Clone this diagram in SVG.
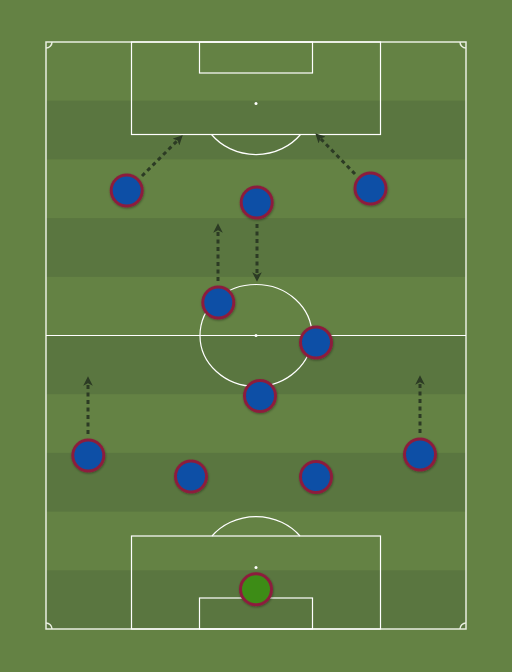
<svg xmlns="http://www.w3.org/2000/svg" width="512" height="672" viewBox="0 0 512 672">
<defs>
<style>
.ln{fill:none;stroke:#ffffff;stroke-width:1.2}
.out{fill:none;stroke:#e8eee0;stroke-width:1.5}
.str{fill:#5a7640}
.pl{fill:#0c4fa6;stroke:#8c1f3c;stroke-width:3}
.gk{fill:#3e8c18;stroke:#8c1f3c;stroke-width:3}
.ar{fill:none;stroke:#2c3b24;stroke-width:3;stroke-dasharray:4 3.5;marker-end:url(#ah)}
</style>
<marker id="ah" viewBox="0 0 10 10" refX="6" refY="5" markerWidth="3.2" markerHeight="3.2" orient="auto" markerUnits="strokeWidth">
<path d="M0,0 L10,5 L0,10 L2.5,5 Z" fill="#2c3b24"/>
</marker>
<filter id="sh" x="-30%" y="-30%" width="160%" height="160%">
<feDropShadow dx="0.5" dy="1" stdDeviation="1" flood-color="#000" flood-opacity="0.35"/>
</filter>
</defs>
<rect width="512" height="672" fill="#648244"/>
<g id="pitch">
<rect class="str" x="46" y="100.7" width="420" height="58.7"/>
<rect class="str" x="46" y="218.1" width="420" height="58.7"/>
<rect class="str" x="46" y="335.5" width="420" height="58.7"/>
<rect class="str" x="46" y="452.9" width="420" height="58.7"/>
<rect class="str" x="46" y="570.3" width="420" height="58.7"/>
<rect class="out" x="46" y="42" width="420" height="587"/>
<line class="ln" x1="46" y1="335.5" x2="466" y2="335.5"/>
<ellipse class="ln" cx="256" cy="335.5" rx="56" ry="51"/>
<circle cx="256" cy="335.5" r="1.5" fill="#fff"/>
<rect class="ln" x="131.5" y="42" width="249" height="92.5"/>
<rect class="ln" x="199.5" y="42" width="113" height="31"/>
<circle cx="256" cy="103.5" r="1.5" fill="#fff"/>
<path class="ln" d="M211.5,134.5 A56 51 0 0 0 300.5,134.5"/>
<rect class="ln" x="131.5" y="536" width="249" height="93"/>
<rect class="ln" x="199.5" y="598" width="113" height="31"/>
<circle cx="256" cy="567.5" r="1.5" fill="#fff"/>
<path class="ln" d="M212,536 A56 51 0 0 1 300,536"/>
<path class="out" d="M46,48 A6 6 0 0 0 52,42"/>
<path class="out" d="M460,42 A6 6 0 0 0 466,48"/>
<path class="out" d="M46,623 A6 6 0 0 1 52,629"/>
<path class="out" d="M460,629 A6 6 0 0 1 466,623"/>
</g>
<g id="connectors">
<line class="ar" x1="142" y1="176" x2="180" y2="138"/>
<line class="ar" x1="355" y1="174" x2="318" y2="136"/>
<line class="ar" x1="218" y1="281" x2="218" y2="227"/>
<line class="ar" x1="257" y1="224" x2="257" y2="278"/>
<line class="ar" x1="88" y1="434" x2="88" y2="380"/>
<line class="ar" x1="420" y1="433" x2="420" y2="379"/>
</g>
<g id="p1" filter="url(#sh)"><circle class="pl" cx="126.7" cy="190.5" r="15.5"/></g>
<g id="p2" filter="url(#sh)"><circle class="pl" cx="256.7" cy="202.5" r="15.5"/></g>
<g id="p3" filter="url(#sh)"><circle class="pl" cx="370.5" cy="188.5" r="15.5"/></g>
<g id="p4" filter="url(#sh)"><circle class="pl" cx="218.3" cy="302.5" r="15.5"/></g>
<g id="p5" filter="url(#sh)"><circle class="pl" cx="316" cy="342.5" r="15.5"/></g>
<g id="p6" filter="url(#sh)"><circle class="pl" cx="260" cy="396" r="15.5"/></g>
<g id="p7" filter="url(#sh)"><circle class="pl" cx="88.3" cy="455.5" r="15.5"/></g>
<g id="p8" filter="url(#sh)"><circle class="pl" cx="191" cy="476.5" r="15.5"/></g>
<g id="p9" filter="url(#sh)"><circle class="pl" cx="316" cy="477" r="15.5"/></g>
<g id="p10" filter="url(#sh)"><circle class="pl" cx="420" cy="454.5" r="15.5"/></g>
<g id="gk" filter="url(#sh)"><circle class="gk" cx="256" cy="589.3" r="15.5"/></g>
</svg>
